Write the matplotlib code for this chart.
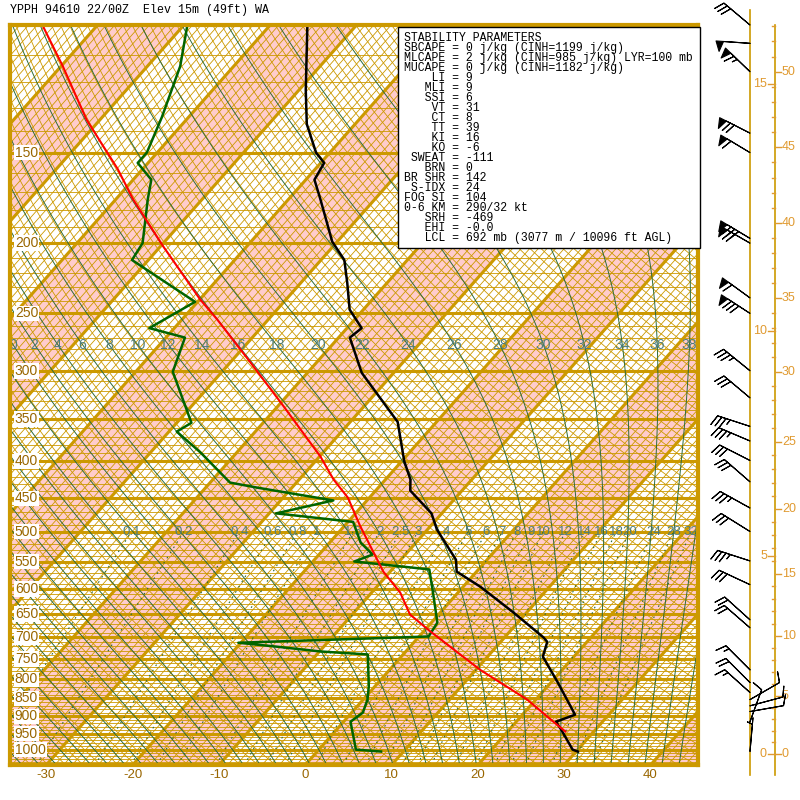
import numpy as np
import matplotlib
matplotlib.use("Agg")
import matplotlib.pyplot as plt
from matplotlib.patches import Polygon, Rectangle
from matplotlib.transforms import blended_transform_factory as blend

plt.rcParams['font.family'] = ['Liberation Sans', 'DejaVu Sans']

# ---- sounding (hPa / degC) ----
pres = [1006, 1000, 938, 915, 895, 808, 744, 710, 700, 647, 596, 568, 547, 497,
        472, 439, 424, 400, 353, 302, 270, 262, 247, 227, 211, 199, 174, 163.5,
        155, 150, 137, 123, 100]
temp = [30.2, 29.4, 26.0, 24.6, 26.1, 20.8, 16.4, 15.4, 14.5, 8.5, 2.0, -2.3, -3.6, -8.9,
        -11.2, -16.0, -17.1, -19.7, -24.5, -33.7, -38.7, -38.3, -41.6, -44.6, -47.3, -50.6,
        -56.3, -59.0, -59.6, -61.6, -65.6, -69.2, -75.7]

dp_pres = [1006, 1000, 915, 889, 853, 818, 739, 732, 721, 712, 698, 668, 607, 564, 550,
           538, 518, 485, 472, 453, 435, 428, 389, 364, 354, 301, 270, 262, 241, 211, 200,
           174, 163.5, 155, 150, 134, 114, 100]
dwpt = [7.4, 4.3, 0.8, 1.3, 0.5, -0.7, -4.1, -9.9, -15.4, -20.3, 1.1, 0.7, -2.9, -5.7, -15.2,
        -13.8, -16.4, -19.4, -29.2, -23.9, -34.0, -37.7, -44.2, -49.1, -48.3, -55.7, -57.8,
        -62.9, -60.3, -71.9, -72.4, -76.3, -77.9, -81.2, -81.2, -83.1, -86.2, -89.6]

parcel_pres = [944, 915, 853, 776, 687, 651, 607, 568, 491, 449, 424, 394, 336, 292, 255,
               239, 202, 174, 158, 147, 135, 114, 100]
parcel_temp = [26.7, 24.3, 19.0, 10.5, 0.8, -3.3, -6.7, -10.8, -18.2, -22.5, -26.0, -29.9,
               -39.3, -47.7, -55.9, -60.0, -69.7, -78.0, -82.9, -86.9, -91.6, -99.8, -106.4]

wind_pres = [100, 106, 116, 141, 150, 197, 200, 238, 250, 300, 327, 358, 375, 399, 427,
             464, 500, 549, 592, 662, 679, 776, 808, 834, 853, 870, 886, 915, 1006]
wind_dir = [310, 274, 314, 297, 301, 301, 300, 306, 303, 309, 310, 288, 293, 297, 311,
            299, 302, 288, 295, 312, 311, 315, 315, 312, 60, 75, 80, 20, 5]
wind_spd = [30, 50, 65, 70, 60, 80, 70, 60, 80, 35, 30, 35, 35, 30, 30,
            35, 30, 35, 30, 20, 20, 15, 20, 15, 10, 10, 10, 10, 5]

mix_ratios = [0.1, 0.2, 0.4, 0.6, 0.8, 1, 1.5, 2, 2.5, 3, 4, 5, 6, 7, 8, 9, 10, 12, 14,
              16, 18, 20, 24, 28, 32]
moist_labels = list(range(-2, 39, 2))
temp_ticks = [-30, -20, -10, 0, 10, 20, 30, 40]
pres_ticks = list(range(150, 1001, 50))
kft_ticks = list(range(0, 54))
km_ticks = [0, 5, 10, 15]

title = "YPPH 94610 22/00Z  Elev 15m (49ft) WA"
stab_lines = [
    "STABILITY PARAMETERS",
    "SBCAPE = 0 j/kg (CINH=1199 j/kg)",
    "MLCAPE = 2 j/kg (CINH=985 j/kg) LYR=100 mb",
    "MUCAPE = 0 j/kg (CINH=1182 j/kg)",
    "    LI = 9",
    "   MLI = 9",
    "   SSI = 6",
    "    VT = 31",
    "    CT = 8",
    "    TT = 39",
    "    KI = 16",
    "    KO = -6",
    " SWEAT = -111",
    "   BRN = 0",
    "BR SHR = 142",
    " S-IDX = 24",
    "FOG SI = 104",
    "0-6 KM = 290/32 kt",
    "   SRH = -469",
    "   EHI = -0.0",
    "   LCL = 692 mb (3077 m / 10096 ft AGL)",
]

# ---- diagram constants ----
SKEW = 32.3
P_BOT, P_TOP = 1050.0, 100.0
RD, CP, LV, EPS = 287.04, 1005.7, 2.501e6, 0.622
ORANGE = '#CC9900'
PINK = '#FFCCCC'
GUIDE_GREEN = '#2E6B3A'
TEAL = '#4E7E7E'
BROWN = '#996600'
HGT = '#E09A30'
NARROW = ['Liberation Sans Narrow', 'Liberation Sans']


def skx(t, p):
    return np.asarray(t, float) + SKEW * np.log(P_BOT / np.asarray(p, float))


def lapse(tk, p):
    es = 6.112 * np.exp(17.67 * (tk - 273.15) / (tk - 29.65))
    rs = EPS * es / (p - es)
    return (RD * tk + LV * rs) / (CP + LV ** 2 * rs * EPS / (RD * tk ** 2))


def moist_adiabat(thw):
    grids = [np.linspace(np.log(1000), np.log(P_BOT), 6),
             np.linspace(np.log(1000), np.log(P_TOP), 120)]
    outs = []
    for g in grids:
        t = thw + 273.15
        ts = [t]
        for a, b in zip(g[:-1], g[1:]):
            h = b - a
            k1 = lapse(t, np.exp(a))
            k2 = lapse(t + h * k1 / 2, np.exp(a + h / 2))
            k3 = lapse(t + h * k2 / 2, np.exp(a + h / 2))
            k4 = lapse(t + h * k3, np.exp(b))
            t = t + h * (k1 + 2 * k2 + 2 * k3 + k4) / 6
            ts.append(t)
        outs.append(np.array(ts))
    p = np.exp(np.concatenate([grids[0][::-1], grids[1][1:]]))
    tk = np.concatenate([outs[0][::-1], outs[1][1:]])
    return p, tk - 273.15


def mr_temp(w, p):
    p = np.asarray(p, float)
    e = w / 1000 * p / (EPS + w / 1000)
    lg = np.log(e / 6.112)
    tw = 243.5 * lg / (17.67 - lg)
    ti = 272.62 * lg / (22.46 - lg)
    return np.where(tw >= 0, tw, ti)


def std_pres(zm):
    # standard atmosphere pressure for a height in metres
    if zm <= 11000:
        return 1013.25 * (1 - 2.25577e-5 * zm) ** 5.25588
    return 226.32 * np.exp(-(zm - 11000) / 6341.6)


fig = plt.figure(figsize=(8, 8), dpi=100)
ax = fig.add_axes([10 / 800, 35 / 800, 688 / 800, 740 / 800])
ax.set_yscale('log')
ax.set_ylim(P_BOT, P_TOP)
ax.set_xlim(-34.2, 45.5)
ax.set_xticks([])
ax.set_yticks([])
ax.minorticks_off()
for s in ax.spines.values():
    s.set_color(ORANGE)
    s.set_linewidth(3)
    s.set_zorder(20)

# pink bands between isotherms
for t0 in range(-120, 41, 20):
    verts = [(skx(t0, P_BOT), P_BOT), (skx(t0, P_TOP), P_TOP),
             (skx(t0 + 10, P_TOP), P_TOP), (skx(t0 + 10, P_BOT), P_BOT)]
    ax.add_patch(Polygon(verts, closed=True, fc=PINK, ec='none', zorder=0))

pg = np.logspace(np.log10(P_BOT), np.log10(P_TOP), 100)

# isobars
for p in range(1040, 100, -10):
    ax.axhline(p, color=ORANGE, lw=2.2 if p % 50 == 0 else 0.6, zorder=2 if p % 50 == 0 else 1)

# isotherms
for t in range(-110, 46):
    thick = t % 10 == 0
    ax.plot(skx([t, t], [P_BOT, P_TOP]), [P_BOT, P_TOP], color=ORANGE,
            lw=2.2 if thick else 0.6, zorder=2 if thick else 1)

# dry adiabats
for th in range(230, 480, 2):
    t = th * (pg / 1000) ** 0.2857 - 273.15
    ax.plot(skx(t, pg), pg, color=ORANGE, lw=0.6, zorder=1)

# moist adiabats
for thw in range(-40, 48, 2):
    mp, mt = moist_adiabat(thw)
    ax.plot(skx(mt, mp), mp, color=GUIDE_GREEN, lw=0.7, zorder=3)
    if thw in moist_labels:
        tl = np.interp(np.log(276), np.log(mp[::-1]), mt[::-1])
        ax.text(skx(tl, 276), 276, str(thw), color=TEAL, fontsize=10, ha='center',
                va='center', clip_on=True, zorder=4, family=NARROW)

# mixing ratio lines
mpg = np.logspace(np.log10(P_BOT), np.log10(500), 40)
for w in mix_ratios:
    ax.plot(skx(mr_temp(w, mpg), mpg), mpg, color=GUIDE_GREEN, lw=0.8,
            dashes=(1.5, 4), zorder=3)
    ax.text(skx(mr_temp(w, 500), 500), 500, f"{w:g}", color=TEAL, fontsize=9.5,
            ha='center', va='center', zorder=4, family=NARROW)

# axis labels
ylab = blend(ax.transAxes, ax.transData)
for p in pres_ticks:
    ax.text(0.007, p, str(p), transform=ylab, color=BROWN, fontsize=10, ha='left',
            va='center', zorder=5, family=NARROW,
            bbox=dict(fc='white', ec='none', pad=0.6))
xlab = blend(ax.transData, ax.transAxes)
for t in temp_ticks:
    ax.text(t, -0.0135, str(t), transform=xlab, color=BROWN, fontsize=9.5,
            ha='center', va='center', clip_on=False)

# sounding
ax.plot(skx(temp, pres), pres, color='black', lw=1.8, zorder=10)
ax.plot(skx(dwpt, dp_pres), dp_pres, color='#006400', lw=1.8, zorder=10)
ax.plot(skx(parcel_temp, parcel_pres), parcel_pres, color='red', lw=1.5, zorder=11)

# ---- wind barbs and height scale ----
bax = fig.add_axes([700 / 800, 35 / 800, 100 / 800, 740 / 800])
bax.set_xlim(0, 100)
bax.set_yscale('log')
bax.set_ylim(P_BOT, P_TOP)
bax.axis('off')
vtr = blend(bax.transData, bax.transAxes)
bax.plot([50, 50], [-0.0135, 1.02], transform=vtr, color=ORANGE, lw=1.2, clip_on=False)
bax.plot([75, 75], [-0.0135, 1.0], transform=vtr, color=ORANGE, lw=1.2, clip_on=False)

rad = np.deg2rad(wind_dir)
u = -np.array(wind_spd) * np.sin(rad)
v = -np.array(wind_spd) * np.cos(rad)
bax.barbs(np.full(len(wind_pres), 50.0), wind_pres, u, v, length=7, lw=0.8,
          color='black', clip_on=False, zorder=5, flip_barb=True,
          sizes=dict(height=0.3, spacing=0.13, width=0.22))

# height scale (standard atmosphere): kft on the right, km on the left
for h in kft_ticks:
    ph = std_pres(h * 304.8)
    if h % 5 == 0:
        bax.plot([75, 81], [ph, ph], color=HGT, lw=1, clip_on=False)
        bax.text(82, ph, str(h), color=HGT, fontsize=9, ha='left', va='center')
    else:
        bax.plot([71.5, 75], [ph, ph], color=HGT, lw=1, clip_on=False)

for km in km_ticks:
    ph = std_pres(km * 1000.0)
    bax.plot([68, 75], [ph, ph], color=HGT, lw=1, clip_on=False)
    bax.text(67, ph, str(km), color=HGT, fontsize=9, ha='right', va='center')

# ---- title and stability box ----
fig.text(10 / 800, 1 - 10 / 800, title, family='Liberation Mono', fontsize=8.4,
         ha='left', va='center')
fig.add_artist(Rectangle((398 / 800, 1 - 248 / 800), 302 / 800, 221 / 800,
                         transform=fig.transFigure, fc='white', ec='black', lw=1, zorder=5))
fig.text(404 / 800, 1 - 32 / 800, "\n".join(stab_lines), family='Liberation Mono',
         fontsize=8.3, ha='left', va='top', linespacing=0.78, zorder=6)

fig.savefig('out.png', dpi=100)
